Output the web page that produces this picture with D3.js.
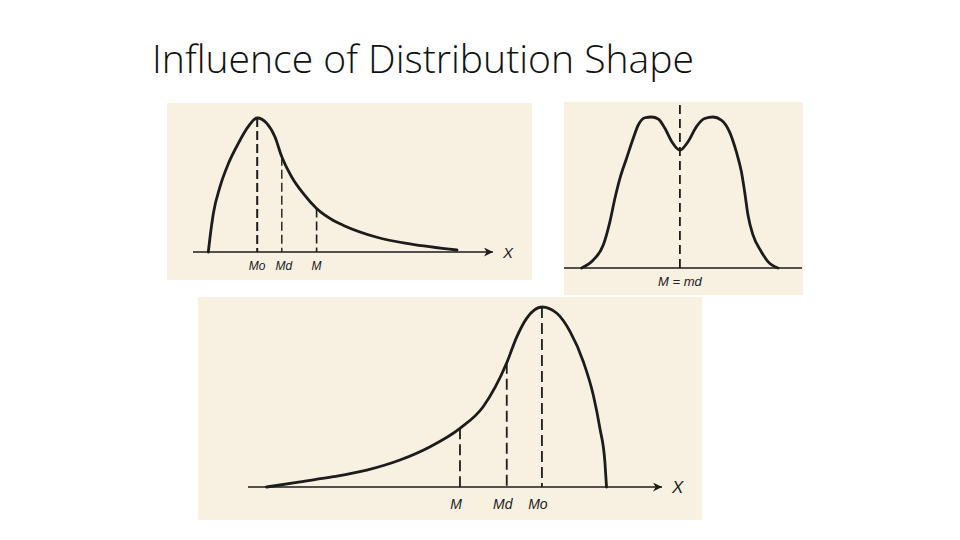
<!DOCTYPE html>
<html>
<head>
<meta charset="utf-8">
<script src="https://cdn.jsdelivr.net/npm/d3@7"></script>
<style>
  body { margin: 0; background: #fff; }
  svg { display: block; }
  .lbl { font-family: "Liberation Sans", Arial, sans-serif; font-style: italic; fill: #222; }
</style>
</head>
<body>
<svg id="chart" width="960" height="540"></svg>
<script>
// Positively skewed (top left panel)
const rightSkewX = [0.51, 0.57, 0.68, 0.90, 1.18, 1.51, 1.84, 2.14, 2.46, 2.73, 2.96, 3.29, 3.68, 4.12, 4.68, 5.0, 6.13, 7.23, 8.8];
const rightSkewY = [0, 0.114, 0.289, 0.487, 0.66, 0.81, 0.935, 1.0, 0.96, 0.86, 0.71, 0.56, 0.435, 0.324, 0.235, 0.20, 0.11, 0.06, 0.015];
const rightSkewMarks = ["Mo", "Md", "M"];
const rightSkewMarkX = [2.14, 2.96, 4.12];

// Symmetric bimodal (top right panel)
const bimodalX = [0.74, 1.23, 1.65, 1.93, 2.14, 2.35, 2.63, 2.91, 3.12, 3.40, 3.68, 3.96, 4.24, 4.53, 4.87,
                  5.21, 5.56, 5.91, 6.26, 6.61, 6.96, 7.24, 7.45, 7.59, 7.73, 7.94, 8.29, 8.57, 8.99];
const bimodalY = [0, 0.053, 0.152, 0.307, 0.462, 0.594, 0.727, 0.859, 0.947, 0.995, 1.0, 0.987, 0.925, 0.836, 0.78,
                  0.836, 0.935, 0.99, 1.0, 0.98, 0.90, 0.77, 0.64, 0.505, 0.351, 0.219, 0.108, 0.042, 0];
const bimodalMarks = ["M = md"];
const bimodalMarkX = [4.87];

// Negatively skewed (bottom panel)
const leftSkewX = [0.45, 1.26, 2.06, 2.87, 3.67, 4.40, 5.12, 5.68, 6.25, 6.49, 6.73, 7.10, 7.46, 7.78, 8.10, 8.34, 8.50, 8.62, 8.66];
const leftSkewY = [0, 0.029, 0.057, 0.094, 0.15, 0.224, 0.326, 0.446, 0.69, 0.833, 0.937, 1.0, 0.965, 0.863, 0.696, 0.511, 0.326, 0.141, 0];
const leftSkewMarks = ["M", "Md", "Mo"];
const leftSkewMarkX = [5.12, 6.25, 7.10];

const svg = d3.select("#chart");
const ink = "#1c1c1c";

// Title, sized so it spans the same width as the slide title
const title = svg.append("text")
  .attr("x", 152)
  .attr("y", 73)
  .style("font-family", "'Open Sans', sans-serif")
  .style("font-weight", 300)
  .style("font-size", "30px")
  .attr("fill", "#111")
  .text("Influence of Distribution Shape");
const tw = title.node().getComputedTextLength();
title.style("font-size", (30 * 543 / tw).toFixed(1) + "px");

const defs = svg.append("defs");
defs.append("marker")
  .attr("id", "arrow")
  .attr("viewBox", "0 0 10 10")
  .attr("refX", 10).attr("refY", 5)
  .attr("markerUnits", "userSpaceOnUse")
  .attr("markerWidth", 18).attr("markerHeight", 9)
  .attr("orient", "auto")
  .append("path")
  .attr("d", "M0,0 L10,5 L0,10 L3,5 Z")
  .attr("fill", ink);

// where a dashed line meets the curve (linear between read points)
function curveAt(xs, ys, v) {
  const i = d3.bisectLeft(xs, v);
  if (i <= 0) return ys[0];
  if (i >= xs.length) return ys[ys.length - 1];
  const t = (v - xs[i - 1]) / (xs[i] - xs[i - 1]);
  return ys[i - 1] + t * (ys[i] - ys[i - 1]);
}

function drawPanel(p) {
  const g = svg.append("g");
  g.append("rect")
    .attr("x", p.box[0]).attr("y", p.box[1])
    .attr("width", p.box[2]).attr("height", p.box[3])
    .attr("fill", "#f8f0e1");

  const x = d3.scaleLinear().domain([0, 10]).range(p.xRange);
  const y = d3.scaleLinear().domain([0, 1]).range(p.yRange);

  // baseline
  const base = g.append("line")
    .attr("x1", p.axisStart).attr("x2", p.axisEnd)
    .attr("y1", y(0)).attr("y2", y(0))
    .attr("stroke", ink).attr("stroke-width", 1.6);
  if (p.arrow) base.attr("marker-end", "url(#arrow)");

  // dashed reference lines
  p.markX.forEach((mx, i) => {
    const top = p.dashTop != null ? p.dashTop : y(curveAt(p.xs, p.ys, mx));
    g.append("line")
      .attr("x1", x(mx)).attr("x2", x(mx))
      .attr("y1", top).attr("y2", y(0))
      .attr("stroke", ink)
      .attr("stroke-width", p.dashWidth[i])
      .attr("stroke-dasharray", p.dash);
    g.append("text")
      .attr("class", "lbl")
      .attr("x", x(mx) + (p.labelShift ? p.labelShift[i] : 0))
      .attr("y", y(0) + p.labelDy)
      .attr("text-anchor", "middle")
      .style("font-size", p.labelSize + "px")
      .text(p.marks[i]);
  });

  // curve
  const line = d3.line()
    .x((d, i) => x(p.xs[i]))
    .y(d => y(d))
    .curve(d3.curveMonotoneX);
  g.append("path")
    .attr("d", line(p.ys))
    .attr("fill", "none")
    .attr("stroke", ink)
    .attr("stroke-width", 2.8)
    .attr("stroke-linecap", "round");

  if (p.arrow) {
    g.append("text")
      .attr("class", "lbl")
      .attr("x", p.axisEnd + p.xLabelDx)
      .attr("y", y(0) + p.xLabelDy)
      .style("font-size", p.xLabelSize + "px")
      .text("X");
  }
}

drawPanel({
  box: [167, 103, 365, 177],
  xRange: [193, 493], yRange: [252, 118],
  axisStart: 193, axisEnd: 493, arrow: true,
  xs: rightSkewX, ys: rightSkewY,
  marks: rightSkewMarks, markX: rightSkewMarkX,
  dashWidth: [2, 1.4, 1.6], dash: "9,4",
  labelDy: 18, labelSize: 12, labelShift: [0, 2, 0],
  xLabelDx: 10, xLabelDy: 6, xLabelSize: 15
});

drawPanel({
  box: [564, 102, 239, 193],
  xRange: [564, 802], yRange: [268, 117],
  axisStart: 564, axisEnd: 802, arrow: false,
  xs: bimodalX, ys: bimodalY,
  marks: bimodalMarks, markX: bimodalMarkX, dashTop: 105,
  dashWidth: [1.8], dash: "9,5",
  labelDy: 18, labelSize: 13
});

drawPanel({
  box: [198, 297, 504, 223],
  xRange: [248, 662], yRange: [487, 307],
  axisStart: 248, axisEnd: 662, arrow: true,
  xs: leftSkewX, ys: leftSkewY,
  marks: leftSkewMarks, markX: leftSkewMarkX,
  dashWidth: [1.8, 1.8, 1.8], dash: "11,5",
  labelDy: 22, labelSize: 14, labelShift: [-4, -4, -4],
  xLabelDx: 10, xLabelDy: 6, xLabelSize: 17
});
</script>
</body>
</html>
